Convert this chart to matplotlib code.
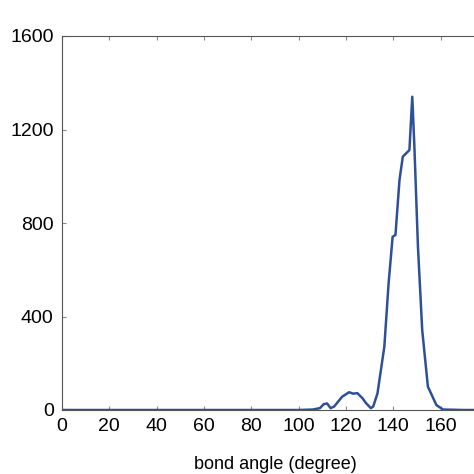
import matplotlib
matplotlib.use("Agg")
import matplotlib.pyplot as plt

angle = [0, 20, 40, 60, 80, 100, 106, 109, 110.6, 112, 113.5, 115, 118.4, 121.3, 123, 124.8, 127, 128.4, 130.5, 131.5,
         133.3, 136.2, 138, 139.7, 140.9, 142.6, 144, 146.8, 148, 148.9, 150.4, 152.2, 154.6, 158.2, 161, 170, 180]
count = [0, 0, 0, 0, 0, 0, 2, 8, 25, 28, 8, 15, 57, 76, 70, 72, 50, 30, 8, 15,
         71, 271, 542, 741, 749, 984, 1084, 1112, 1340, 1126, 699, 342, 100, 21, 2, 0, 0]
xticks = [0, 20, 40, 60, 80, 100, 120, 140, 160]
yticks = [0, 400, 800, 1200, 1600]

plt.rcParams['font.family'] = ['Liberation Sans', 'DejaVu Sans']
fig = plt.figure(figsize=(4.74, 4.74), dpi=100)
ax = fig.add_axes([62/474, 64/474, 426/474, 374/474])
ax.plot(angle, count, color='#2f4f9a', lw=1.8)
ax.set_xlim(0, 180)
ax.set_ylim(0, 1600)
ax.set_xticks(xticks)
ax.set_yticks(yticks)
ax.tick_params(direction='in', top=True, right=True, labelsize=14, length=3, color='#888888', pad=6)
for s in ax.spines.values():
    s.set_color('#555555'); s.set_linewidth(0.8)
ax.set_xlabel('bond angle (degree)', fontsize=13, labelpad=15)
fig.savefig('out.png', dpi=100)
